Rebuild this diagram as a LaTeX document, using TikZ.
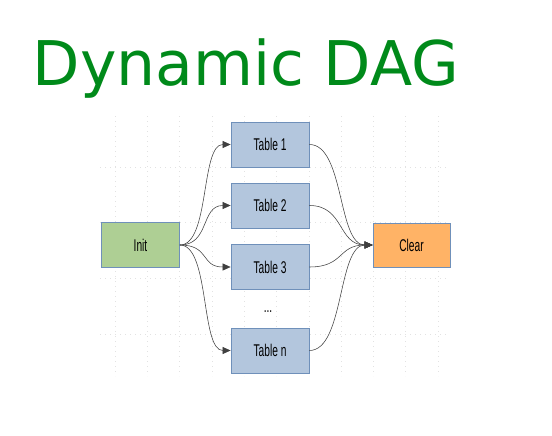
\documentclass[tikz,border=0pt]{standalone}
\usepackage{fontspec}
\setmainfont{Liberation Sans}
\newfontfamily\titlefont{DejaVu Sans}
\usetikzlibrary{arrows.meta}
\definecolor{titlegreen}{HTML}{008A1A}
\definecolor{initfill}{HTML}{AECF94}
\definecolor{tabfill}{HTML}{B3C6DD}
\definecolor{clearfill}{HTML}{FFB366}
\definecolor{boxborder}{HTML}{6F90BA}
\definecolor{gridcol}{HTML}{E2E2E2}
\newcommand{\narrowtxt}[1]{\scalebox{0.6}[1]{\fontsize{17pt}{17pt}\selectfont #1}}
\tikzset{
  box/.style={draw=boxborder, line width=0.8pt, minimum width=78pt, minimum height=45pt, inner sep=0pt},
  initbox/.style={box, fill=initfill},
  tabbox/.style={box, fill=tabfill},
  clearbox/.style={box, fill=clearfill, minimum width=77pt, minimum height=44pt},
  conn/.style={draw=black!75, line width=0.55pt, -{Triangle[length=8pt,width=7pt]}},
  gridline/.style={draw=gridcol, line width=0.6pt, dash pattern=on 1pt off 4pt}
}
\begin{document}
\begin{tikzpicture}[x=1pt,y=-1pt]
\useasboundingbox[fill=white] (0,0) rectangle (552,436);
% faint grid
\foreach \gx in {115,147.3,179.6,211.9,244.2,276.5,308.8,341.1,373.4,405.7,438} {
  \draw[gridline] (\gx,116) -- (\gx,376);
}
\foreach \gy in {167,222,278,334} {
  \draw[gridline] (100,\gy) -- (446,\gy);
}
% title
\node[anchor=base west, inner sep=0pt, text=titlegreen] (title) at (32.5,85) {\titlefont\fontsize{61.6pt}{61.6pt}\selectfont Dynamic DAG};
% boxes
\node[initbox] (init) at (140.5,245) {\narrowtxt{Init}};
\node[tabbox] (t1) at (270,144.5) {\narrowtxt{Table 1}};
\node[tabbox] (t2) at (270,205.5) {\narrowtxt{Table 2}};
\node[tabbox] (t3) at (270,267) {\narrowtxt{Table 3}};
\node[tabbox] (tn) at (270,350.5) {\narrowtxt{Table n}};
\node[clearbox] (clear) at (411.5,245) {\narrowtxt{Clear}};
\node[inner sep=0pt] (dots) at (268,312) {\narrowtxt{...}};
% connectors
\foreach \t in {t1,t2,t3,tn} {
  \draw[conn] (init.east) .. controls +(30,0) and +(-30,0) .. (\t.west);
  \draw[conn] (\t.east) .. controls +(35,0) and +(-35,0) .. (clear.west);
}
\end{tikzpicture}
\end{document}
